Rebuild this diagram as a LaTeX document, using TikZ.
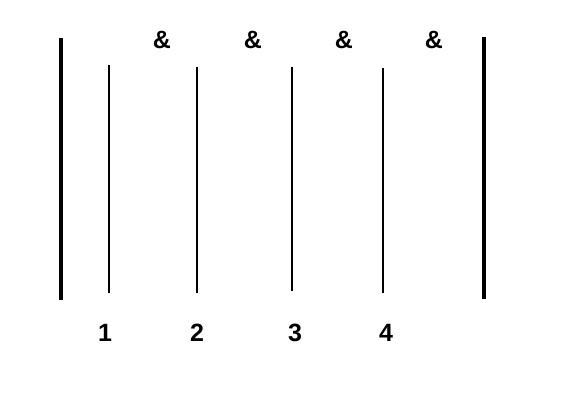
\documentclass[tikz,border=0pt]{standalone}
\usepackage{fontspec}
\setmainfont{Liberation Sans}
\begin{document}
\begin{tikzpicture}[x=1pt,y=-1pt,
  thickbar/.style={line width=3.5pt},
  thinbar/.style={line width=1.3pt},
  lbl/.style={font=\fontsize{25}{27}\selectfont\bfseries, inner sep=0pt}]
\useasboundingbox (0,0) rectangle (580,401);
% thick bars
\coordinate (lt) at (61,38); \coordinate (lb) at (61,300);
\coordinate (rt) at (484,37); \coordinate (rb) at (484,299);
\draw[thickbar] (lt) -- (lb);
\draw[thickbar] (rt) -- (rb);
% thin bars
\coordinate (a1) at (109,65); \coordinate (b1) at (109,293);
\coordinate (a2) at (197,67); \coordinate (b2) at (197,293);
\coordinate (a3) at (292,67); \coordinate (b3) at (292,291);
\coordinate (a4) at (383,68); \coordinate (b4) at (383,293);
\draw[thinbar] (a1) -- (b1);
\draw[thinbar] (a2) -- (b2);
\draw[thinbar] (a3) -- (b3);
\draw[thinbar] (a4) -- (b4);
% ampersands
\node[lbl] (amp1) at (162,40) {\&};
\node[lbl] (amp2) at (253,40) {\&};
\node[lbl] (amp3) at (344,40) {\&};
\node[lbl] (amp4) at (434,40) {\&};
% numbers
\node[lbl] (n1) at (105,333) {1};
\node[lbl] (n2) at (197,333) {2};
\node[lbl] (n3) at (295,333) {3};
\node[lbl] (n4) at (386,333) {4};
\end{tikzpicture}
\end{document}
